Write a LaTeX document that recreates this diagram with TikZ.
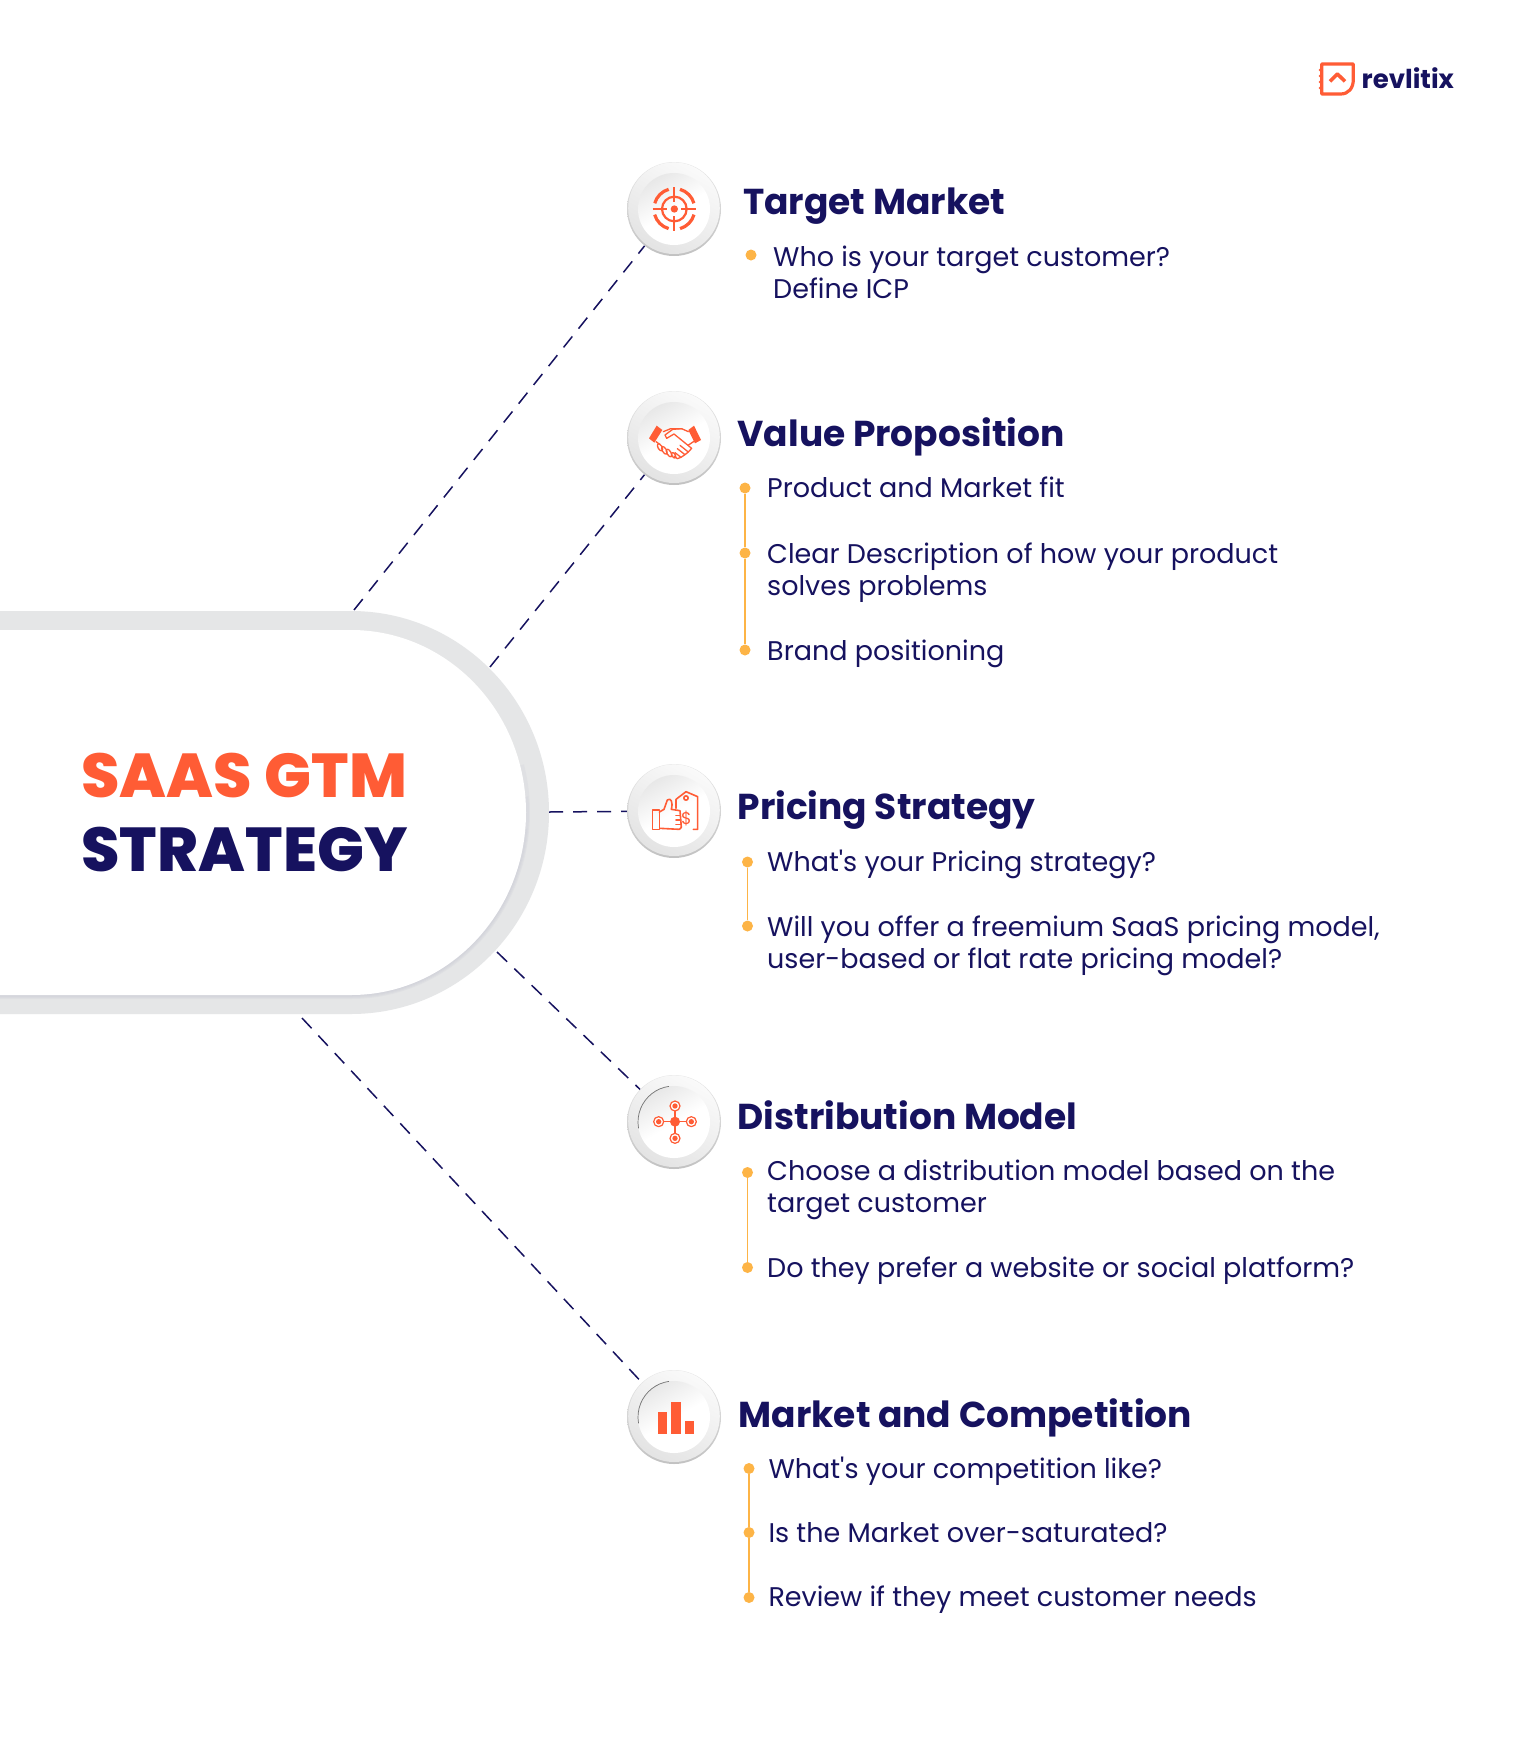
\documentclass[tikz,border=0pt]{standalone}
\usepackage{fontspec}
\setmainfont{Poppins}
\newfontfamily\itemfont{Poppins}
\newfontfamily\titlefont{Poppins ExtraBold}[LetterSpace=.3]
\definecolor{gtmnavy}{HTML}{16125F}
\definecolor{gtmred}{HTML}{FF5C35}
\definecolor{gtmgold}{HTML}{FDB446}
\definecolor{gtmring}{HTML}{E5E6E7}
\definecolor{gtmshade}{HTML}{C9CAD4}
\definecolor{gtmcore}{HTML}{E8E8E8}
\pgfdeclarehorizontalshading{corefade}{100bp}{color(0bp)=(white); color(49bp)=(white); color(75bp)=(gtmcore); color(100bp)=(gtmcore)}

\begin{document}
\begin{tikzpicture}[x=1pt, y=-1pt,
  plate/.style = {shape=circle, inner sep=0pt, minimum size=94pt,
    top color=black!9, bottom color=black!24,
    path picture={
      \shade[top color=black!2, bottom color=black!11, shading angle=-30]
        ([shift={(0pt,.8pt)}]path picture bounding box.center) circle (45.8pt);
      \shade[shading=corefade, shading angle=120]
        (path picture bounding box.center) circle (36pt);}},
  headtext/.style = {anchor=west, inner sep=0pt, text=gtmnavy,
    font=\fontsize{36}{42}\selectfont\bfseries},
  itemtext/.style = {anchor=west, inner sep=0pt, align=left, text=gtmnavy,
    font=\itemfont\fontsize{27}{32.3}\selectfont},
  itemdot/.style = {shape=circle, inner sep=0pt, minimum size=11pt, fill=gtmgold},
  itemlink/.style = {gtmgold, line width=1.8pt},
  spoke/.style = {gtmnavy, line width=1.5pt, dash pattern=on 14pt off 10pt},
  iconline/.style = {gtmred, line width=1.6pt, line join=round, line cap=round}]

  \useasboundingbox (0,0) rectangle (1536,1740);
  \fill[white] (0,0) rectangle (1536,1740);

  % hub
  \fill[gtmring] (0,611) -- (351,611) arc (-90:90:198 and 201.5) -- (0,1014) -- cycle;
  \foreach \wide/\stop in {2/15, 4/5, 6/-5, 8/-15}
    \draw[gtmshade, line width=\wide pt, opacity=.2] (0,995) -- (351,995) arc (90:\stop:175 and 182.5);
  \fill[white] (0,630) -- (351,630) arc (-90:90:175 and 182.5) -- (0,995) -- cycle;
  \coordinate (hubA) at (354,610);
  \coordinate (hubB) at (490,667);
  \coordinate (hubC) at (549,812);
  \coordinate (hubD) at (497,952);
  \coordinate (hubE) at (302,1018);
  \node[anchor=west, inner sep=0pt, align=left, font=\titlefont\fontsize{62}{74}\selectfont]
    (title) at (81,812.5) {\textcolor{gtmred}{SAAS GTM}\\\textcolor{gtmnavy}{STRATEGY}};

  % plates
  \node[plate] (target) at (674,209) {};
  \node[plate] (value) at (674,438) {};
  \node[plate] (pricing) at (674,811) {};
  \node[plate] (channel) at (674,1122) {};
  \node[plate] (rivals) at (674,1417) {};
  \draw[black!55, line width=.7pt] (channel.center) ++(-98:36) arc (-98:-190:36);
  \draw[black!55, line width=.7pt] (rivals.center) ++(-98:36) arc (-98:-190:36);

  % spokes
  \draw[spoke] (hubA) -- (target);
  \draw[spoke] (hubB) -- (value);
  \draw[spoke] (hubC) -- (pricing);
  \draw[spoke] (hubD) -- (channel);
  \draw[spoke] (hubE) -- (rivals);

  % target icon
  \begin{scope}[shift={(600,140)}, scale=1/3, iconline, line width=2.2pt]
    \fill[gtmred] (223,207) circle (11);
    \draw (223,207) circle (37);
    \draw[line cap=butt] (223,142) -- (223,186) (223,228) -- (223,272)
      (158,207) -- (202,207) (244,207) -- (288,207);
    \draw[line width=3.2pt, line cap=butt] (206,148) arc (-106:-164:61) (240,148) arc (-74:-16:61)
      (164,224) arc (164:106:61) (282,224) arc (16:74:61);
  \end{scope}

  % handshake icon
  \begin{scope}[shift={(600,370)}, scale=1/3, iconline, line width=1.3pt]
    \fill[gtmred] (147,205) -- (170,167) -- (187,180) -- (163,218) -- cycle;
    \fill[gtmred] (265,180) -- (282,167) -- (303,210) -- (285,220) -- cycle;
    \draw (190,185) -- (212,176) -- (245,176) -- (265,185);
    \draw (245,176) -- (218,178) -- (195,195) -- (200,205) -- (222,192) -- (275,235) -- (265,246) -- (240,226);
    \draw (265,246) -- (255,254) -- (232,236) (255,254) -- (243,262) -- (225,248) (243,262) -- (232,266) -- (222,258);
    \draw (285,212) -- (264,226) (168,215) -- (178,222);
    \draw[rotate around={-60:(180,232)}] (180,232) ellipse (12 and 6);
    \draw[rotate around={-60:(193,241)}] (193,241) ellipse (13 and 6);
    \draw[rotate around={-60:(207,249)}] (207,249) ellipse (13 and 6);
    \draw[rotate around={-60:(221,256)}] (221,256) ellipse (9 and 5);
  \end{scope}

  % thumb and price tag icon
  \begin{scope}[shift={(600,740)}, scale=1/3, iconline]
    \draw (228,205) -- (228,178) -- (258,155) -- (293,170) -- (293,268) -- (280,268);
    \draw (258,174) circle (6.5);
    \draw (157,210) -- (178,210) -- (178,268) -- (157,268) -- cycle;
    \draw (178,216) -- (192,208) -- (202,180) .. controls (212,172) and (220,185) .. (214,208) -- (240,212)
      -- (244,262) -- (238,268) -- (180,265);
    \draw (240,226) -- (228,226) (242,240) -- (228,240) (243,254) -- (228,254);
    \node[gtmred, inner sep=0pt, font=\fontsize{17}{17}\selectfont] (tagprice) at (259,235) {\$};
  \end{scope}

  % channel icon
  \begin{scope}[shift={(600,1050)}, scale=1/3, iconline]
    \draw (225,168) -- (225,265) (176,215) -- (274,215);
    \fill[gtmred] (225,215) circle (15);
    \filldraw[fill=white, line width=1.2pt] (225,168) circle (15) (225,265) circle (15)
      (176,215) circle (15) (274,215) circle (15);
    \fill[gtmred] (225,168) circle (8) (225,265) circle (8) (176,215) circle (8) (274,215) circle (8);
  \end{scope}

  % bars icon
  \begin{scope}[shift={(600,1345)}, scale=1/3]
    \fill[gtmred] (174,201) rectangle (202,268);
    \fill[gtmred] (214,172) rectangle (243,268);
    \fill[gtmred] (255,229) rectangle (283,268);
  \end{scope}

  % logo
  \begin{scope}[shift={(1300,40)}, scale=1/3, iconline]
    \draw[line width=3.2pt, line cap=butt] (65,72) -- (160,72) -- (160,118)
      .. controls (160,145) and (145,162) .. (122,162) -- (65,162) -- cycle;
    \draw[line width=3.6pt, line cap=butt] (90,124) -- (112,102) -- (135,124);
    \fill[gtmred] (61,90) circle (5) (61,108) circle (5) (61,126) circle (5) (61,144) circle (5);
  \end{scope}
  \node[anchor=west, inner sep=0pt, text=gtmnavy, font=\fontsize{26}{30}\selectfont\bfseries]
    (brand) at (1361.5,78) {revlitix};

  % Target Market
  \node[headtext] (targethead) at (743,206.5) {Target Market};
  \node[itemdot] (targetdot) at (751,255) {};
  \node[itemtext] (targetitem) at (773,272) {Who is your target customer?\\Define ICP};

  % Value Proposition
  \node[headtext] (valuehead) at (737.5,437) {Value Proposition};
  \node[itemdot] (valuedotA) at (745,488) {};
  \node[itemdot] (valuedotB) at (745,553) {};
  \node[itemdot] (valuedotC) at (745,650) {};
  \draw[itemlink] (valuedotA) -- (valuedotB);
  \draw[itemlink] (valuedotB) -- (valuedotC);
  \node[itemtext] (valueitemA) at (767,487.5) {Product and Market fit};
  \node[itemtext] (valueitemB) at (767,573) {Clear Description of how your product\\solves problems};
  \node[itemtext] (valueitemC) at (767,653.5) {Brand positioning};

  % Pricing Strategy
  \node[headtext] (pricehead) at (737.5,810) {Pricing Strategy};
  \node[itemdot] (pricedotA) at (747.5,862) {};
  \node[itemdot] (pricedotB) at (747.5,926) {};
  \draw[itemlink] (pricedotA) -- (pricedotB);
  \node[itemtext] (priceitemA) at (767,864.5) {What's your Pricing strategy?};
  \node[itemtext] (priceitemB) at (767,945.5) {Will you offer a freemium SaaS pricing model,\\user-based or flat rate pricing model?};

  % Distribution Model
  \node[headtext] (channelhead) at (737.5,1115.5) {Distribution Model};
  \node[itemdot] (channeldotA) at (747.5,1172.5) {};
  \node[itemdot] (channeldotB) at (747.5,1267.5) {};
  \draw[itemlink] (channeldotA) -- (channeldotB);
  \node[itemtext] (channelitemA) at (767,1189.6) {Choose a distribution model based on the\\target customer};
  \node[itemtext] (channelitemB) at (767,1271) {Do they prefer a website or social platform?};

  % Market and Competition
  \node[headtext] (rivalhead) at (738.5,1418) {Market and Competition};
  \node[itemdot] (rivaldotA) at (749,1468.5) {};
  \node[itemdot] (rivaldotB) at (749,1532.5) {};
  \node[itemdot] (rivaldotC) at (749,1597.5) {};
  \draw[itemlink] (rivaldotA) -- (rivaldotB);
  \draw[itemlink] (rivaldotB) -- (rivaldotC);
  \node[itemtext] (rivalitemA) at (768.3,1471) {What's your competition like?};
  \node[itemtext] (rivalitemB) at (768.3,1532.7) {Is the Market over-saturated?};
  \node[itemtext] (rivalitemC) at (768.3,1600) {Review if they meet customer needs};
\end{tikzpicture}
\end{document}
